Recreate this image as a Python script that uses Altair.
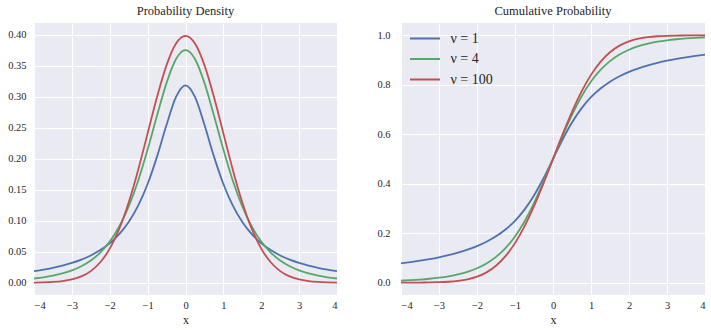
import altair as alt
import pandas as pd

x_vals = [-4.0, -3.75, -3.5, -3.25, -3.0, -2.75, -2.5, -2.25, -2.0, -1.75, -1.5, -1.25, -1.0, -0.75, -0.5, -0.25,
          0.0, 0.25, 0.5, 0.75, 1.0, 1.25, 1.5, 1.75, 2.0, 2.25, 2.5, 2.75, 3.0, 3.25, 3.5, 3.75, 4.0]

series_labels = ["ν = 1", "ν = 4", "ν = 100"]
series_colors = ["#4C72B0", "#55A868", "#C44E52"]

pdf_nu1 = [0.01872, 0.02113, 0.02402, 0.02753, 0.03183, 0.03717, 0.04390, 0.05250, 0.06366, 0.07835, 0.09794,
           0.12422, 0.15915, 0.20372, 0.25465, 0.29959, 0.31831, 0.29959, 0.25465, 0.20372, 0.15915, 0.12422,
           0.09794, 0.07835, 0.06366, 0.05250, 0.04390, 0.03717, 0.03183, 0.02753, 0.02402, 0.02113, 0.01872]
pdf_nu4 = [0.00671, 0.00865, 0.01128, 0.01483, 0.01969, 0.02640, 0.03567, 0.04854, 0.06629, 0.09052, 0.12288,
           0.16444, 0.21466, 0.26989, 0.32226, 0.36074, 0.37500, 0.36074, 0.32226, 0.26989, 0.21466, 0.16444,
           0.12288, 0.09052, 0.06629, 0.04854, 0.03567, 0.02640, 0.01969, 0.01483, 0.01128, 0.00865, 0.00671]
pdf_nu100 = [0.00021, 0.00050, 0.00114, 0.00248, 0.00512, 0.01003, 0.01865, 0.03289, 0.05494, 0.08676, 0.12938,
             0.18188, 0.24076, 0.29978, 0.35080, 0.38558, 0.39795, 0.38558, 0.35080, 0.29978, 0.24076, 0.18188,
             0.12938, 0.08676, 0.05494, 0.03289, 0.01865, 0.01003, 0.00512, 0.00248, 0.00114, 0.00050, 0.00021]

cdf_nu1 = [0.07798, 0.08295, 0.08859, 0.09502, 0.10242, 0.11102, 0.12112, 0.13312, 0.14758, 0.16525, 0.18717,
           0.21478, 0.25000, 0.29517, 0.35242, 0.42202, 0.50000, 0.57798, 0.64758, 0.70483, 0.75000, 0.78522,
           0.81283, 0.83475, 0.85242, 0.86688, 0.87888, 0.88898, 0.89758, 0.90498, 0.91141, 0.91705, 0.92202]
cdf_nu4 = [0.00807, 0.00997, 0.01245, 0.01569, 0.01997, 0.02569, 0.03338, 0.04382, 0.05806, 0.07751, 0.10400,
           0.13972, 0.18695, 0.24748, 0.32166, 0.40745, 0.50000, 0.59255, 0.67834, 0.75252, 0.81305, 0.86028,
           0.89600, 0.92249, 0.94194, 0.95618, 0.96662, 0.97431, 0.98003, 0.98431, 0.98755, 0.99003, 0.99193]
cdf_nu100 = [0.00006, 0.00015, 0.00034, 0.00078, 0.00171, 0.00353, 0.00702, 0.01332, 0.02411, 0.04160, 0.06836,
             0.10704, 0.15985, 0.22750, 0.30910, 0.40145, 0.50000, 0.59855, 0.69090, 0.77250, 0.84015, 0.89296,
             0.93164, 0.95840, 0.97589, 0.98668, 0.99298, 0.99647, 0.99829, 0.99922, 0.99966, 0.99985, 0.99994]

x_ticks = [-4, -3, -2, -1, 0, 1, 2, 3, 4]
pdf_ticks = [0.0, 0.05, 0.10, 0.15, 0.20, 0.25, 0.30, 0.35, 0.40]
cdf_ticks = [0.0, 0.2, 0.4, 0.6, 0.8, 1.0]

rows = []
for lab, p, c in zip(series_labels, [pdf_nu1, pdf_nu4, pdf_nu100], [cdf_nu1, cdf_nu4, cdf_nu100]):
    for xv, pv, cv in zip(x_vals, p, c):
        rows.append({"x": xv, "nu": lab, "pdf": pv, "cdf": cv})
df = pd.DataFrame(rows)

FONT = "Liberation Serif"
color_scale = alt.Scale(domain=series_labels, range=series_colors)

x_enc = alt.X("x:Q", title="x",
              scale=alt.Scale(domain=[-4, 4], nice=False, zero=False),
              axis=alt.Axis(values=x_ticks, format="d", labelPadding=5, titlePadding=4))

left = alt.Chart(df, title=alt.Title("Probability Density")).mark_line(
    strokeWidth=1.8, interpolate="monotone", clip=True
).encode(
    x=x_enc,
    y=alt.Y("pdf:Q", title=None,
            scale=alt.Scale(domain=[-0.0199, 0.4188], nice=False, zero=False),
            axis=alt.Axis(values=pdf_ticks, format=".2f", labelPadding=8)),
    color=alt.Color("nu:N", scale=color_scale, legend=None),
).properties(width=303, height=272)

right = alt.Chart(df, title=alt.Title("Cumulative Probability")).mark_line(
    strokeWidth=1.8, interpolate="monotone", clip=True
).encode(
    x=x_enc,
    y=alt.Y("cdf:Q", title=None,
            scale=alt.Scale(domain=[-0.05, 1.05], nice=False, zero=False),
            axis=alt.Axis(values=cdf_ticks, format=".1f", labelPadding=11)),
    color=alt.Color("nu:N", scale=color_scale, sort=series_labels,
                    legend=alt.Legend(title=None, orient="none", legendX=15.5, legendY=7,
                                      symbolType="M-2,0H2", symbolSize=225, symbolStrokeWidth=2,
                                      labelOffset=17, labelFontSize=14, labelFont=FONT,
                                      labelColor="#262626", rowPadding=4.5, padding=0)),
).properties(width=304, height=272)

chart = alt.hconcat(left, right, spacing=39).resolve_scale(
    color="independent"
).resolve_legend(
    color="independent"
).properties(
    padding={"left": 7, "top": 4, "right": 5, "bottom": 4}
).configure_view(
    fill="#EAEAF2", stroke=None
).configure_axis(
    grid=True, gridColor="white", gridWidth=1, domain=False, ticks=False,
    labelFont=FONT, labelFontSize=10.5, labelColor="#262626",
    titleFont=FONT, titleFontSize=12, titleColor="#262626", titleFontWeight="normal",
).configure_title(
    font=FONT, fontSize=12.5, color="#262626", fontWeight="normal", offset=6
)

chart.save("out.html", embed_options={"renderer": "svg", "actions": False})
